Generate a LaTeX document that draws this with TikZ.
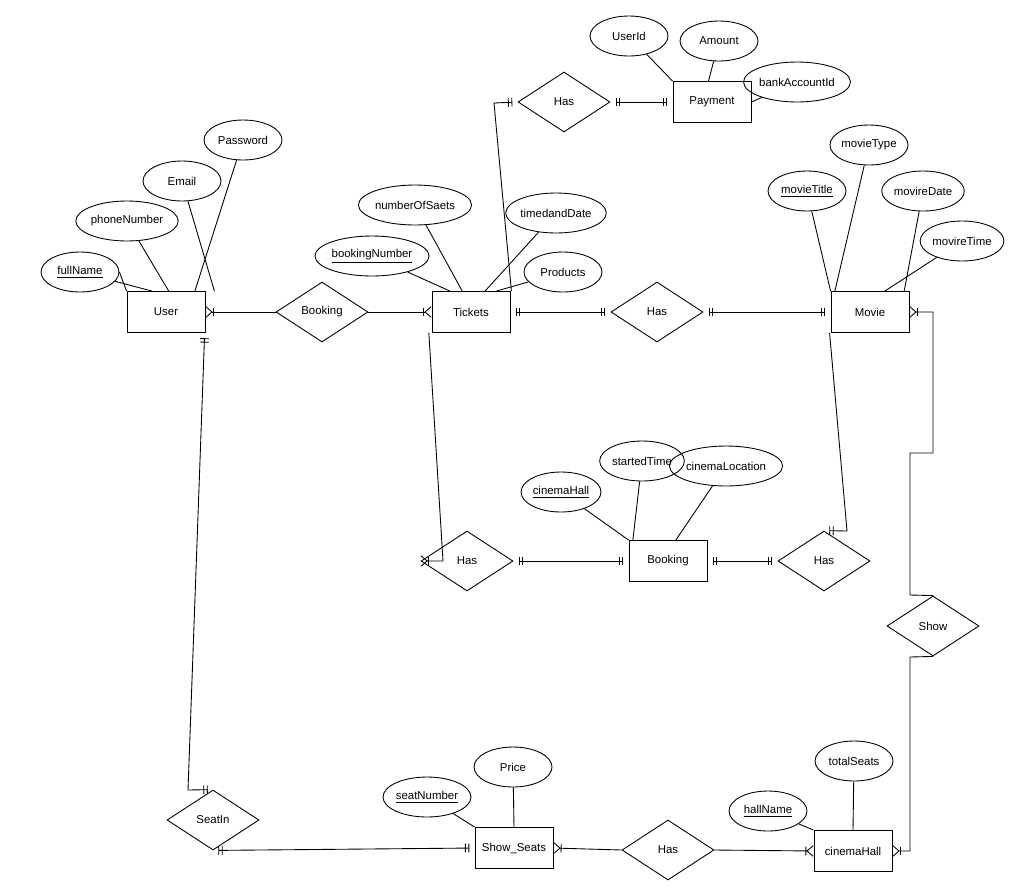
\documentclass[tikz,border=0pt]{standalone}
\usepackage{fontspec}
\setmainfont{Liberation Sans}
\usetikzlibrary{shapes.geometric,arrows.meta}
\begin{document}
\begin{tikzpicture}[x=0.02cm,y=-0.02cm,
  font=\fontsize{6.5}{7}\selectfont, line width=0.5pt,
  ent/.style={draw,rectangle,minimum width=1.56cm,minimum height=0.82cm,inner sep=0},
  attr/.style={draw,ellipse,minimum width=1.56cm,minimum height=0.8cm,inner sep=0},
  rel/.style={draw,diamond,minimum width=1.84cm,minimum height=1.2cm,inner sep=0},
  one/.style={Bar[width=5pt,sep=1.5pt]Bar[width=5pt]},
  onetip/.tip={Bar[width=5pt,sep=1.5pt]Bar[width=5pt,sep=3pt]},
  crowtip/.tip={Bar[width=5pt,sep=0pt]Straight Barb[reversed,length=3.5pt,width=6pt]}]
\useasboundingbox (0,0) rectangle (1024,893);
% entities
\node[ent] (user) at (166,312) {User};
\node[ent] (tick) at (471,312) {Tickets};
\node[ent] (movie) at (870,312) {Movie};
\node[ent] (pay) at (712,102) {Payment};
\node[ent] (book) at (668,561) {Booking};
\node[ent] (ss) at (514,848) {Show\_Seats};
\node[ent] (hall) at (853,851) {cinemaHall};
% relations
\node[rel] (rb) at (322,312) {Booking};
\node[rel] (rtm) at (657,312) {Has};
\node[rel] (rp) at (564,102) {Has};
\node[rel] (rtb) at (467,561) {Has};
\node[rel] (rbm) at (824,561) {Has};
\node[rel] (rshow) at (933,626) {Show};
\node[rel] (rseat) at (213,820) {SeatIn};
\node[rel] (rsh) at (668,850) {Has};
% attributes
\node[attr] (a1) at (80,272) {\underline{fullName}};
\node[attr] (a2) at (127,221) {phoneNumber};
\node[attr] (a3) at (182,181) {Email};
\node[attr] (a4) at (243,140) {Password};
\node[attr] (t1) at (372,256) {\underline{bookingNumber}};
\node[attr] (t2) at (415,205) {numberOfSaets};
\node[attr] (t3) at (556,213) {timedandDate};
\node[attr] (t4) at (563,272) {Products};
\node[attr] (p1) at (629,36) {UserId};
\node[attr] (p2) at (719,41) {Amount};
\node[attr] (p3) at (797,82) {bankAccountId};
\node[attr] (m1) at (807,191) {\underline{movieTitle}};
\node[attr] (m2) at (869,145) {movieType};
\node[attr] (m3) at (923,191) {movireDate};
\node[attr] (m4) at (962,241) {movireTime};
\node[attr] (b1) at (561,492) {\underline{cinemaHall}};
\node[attr] (b2) at (642,461) {startedTime};
\node[attr] (b3) at (726,466) {cinemaLocation};
\node[attr] (s1) at (427,797) {\underline{seatNumber}};
\node[attr] (s2) at (513,767) {Price};
\node[attr] (h1) at (768,811) {\underline{hallName}};
\node[attr] (h2) at (854,761) {totalSeats};
% attribute links
\draw (a1) -- ([xshift=-8]user.north west -| user.north) ;
\draw (a1.east) -- (user.north west);
\draw (a2) -- ([xshift=24]user.north west);
\draw (a3) -- ([xshift=50]user.north west);
\draw (a4) -- ([xshift=-6]user.north east);
\draw (t1) -- ([xshift=-12]tick.north);
\draw (t2) -- ([xshift=-5]tick.north);
\draw (t3) -- ([xshift=8]tick.north);
\draw (t4) -- ([xshift=-8]tick.north east);
\draw (p1) -- (pay.north west);
\draw (p2) -- ([xshift=-2]pay.north);
\draw (p3) -- (pay.east);
\draw (m1) -- (movie.north west);
\draw (m2) -- ([xshift=-20]movie.north);
\draw (m3) -- ([xshift=-3]movie.north east |- movie.north) ;
\draw (m4) -- ([xshift=-14]movie.north east);
\draw (b1) -- (book.north west);
\draw (b2) -- ([xshift=-20]book.north);
\draw (b3) -- ([xshift=-18]book.north east);
\draw (s1) -- (ss.north west);
\draw (s2) -- (ss.north);
\draw (h1) -- (hall.north west);
\draw (h2) -- (hall.north);
% relationships
\draw[{crowtip}-] (user.east) -- (rb.west);
\draw[-{crowtip}] (rb.east) -- (tick.west);
\draw[{onetip}-{onetip}] (tick.east) -- (rtm.west);
\draw[{onetip}-{onetip}] (rtm.east) -- (movie.west);
\coordinate (c1) at (494,103);
\draw[-{onetip}] ([xshift=23]tick.north |- tick.north) -- (c1) -- (rp.west);
\draw[{onetip}-{onetip}] (rp.east) -- (pay.west);
\coordinate (c2) at (443,561);
\draw[-{crowtip}] ([xshift=-24]tick.south) -- (c2) -- (rtb.west);
\draw[{onetip}-{onetip}] (rtb.east) -- (book.west);
\draw[{onetip}-{onetip}] (book.east) -- (rbm.west);
\coordinate (c3) at (847,531);
\draw[-{onetip}] ([xshift=-23]movie.south) -- (c3) -- (rbm.north);
\coordinate (c4) at (933,312);
\coordinate (c5) at (933,453);
\coordinate (c6) at (910,453);
\coordinate (c7) at (910,595);
\draw[{crowtip}-] (movie.east) -- (c4) -- (c5) -- (c6) -- (c7) -- (rshow.north);
\coordinate (c8) at (910,657);
\coordinate (c9) at (910,851);
\draw[-{crowtip}] (rshow.south) -- (c8) -- (c9) -- (hall.east);
\coordinate (c10) at (188,790);
\draw[{onetip}-{onetip}] ([xshift=22]user.south) -- (c10) -- (rseat.north);
\draw[{onetip}-{onetip}] (rseat.south) -- (ss.west);
\draw[{crowtip}-] (ss.east) -- (rsh.west);
\draw[-{crowtip}] (rsh.east) -- (hall.west);
\end{tikzpicture}
\end{document}
